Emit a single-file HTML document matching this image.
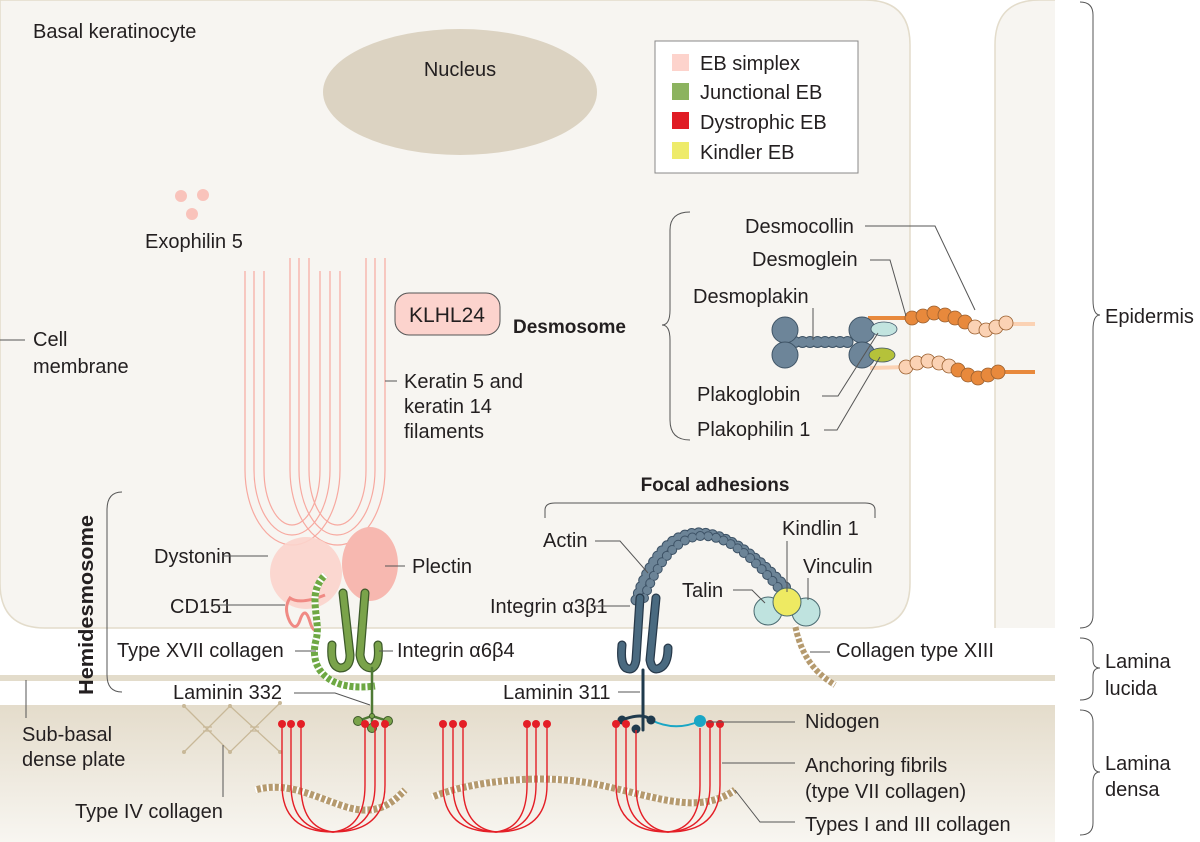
<!DOCTYPE html>
<html><head><meta charset="utf-8"><style>
html,body{margin:0;padding:0;background:#fff}
svg{display:block}
text{font-family:"Liberation Sans",sans-serif;font-size:20px;fill:#231f20}
.b{font-weight:bold}
.ln{stroke:#555;stroke-width:1;fill:none}
</style></head><body>
<svg width="1200" height="842" viewBox="0 0 1200 842" xmlns="http://www.w3.org/2000/svg">
<defs>
<linearGradient id="dg" x1="0" y1="0" x2="0" y2="1"><stop offset="0" stop-color="#e4dccb"/><stop offset="1" stop-color="#f8f6f1"/></linearGradient>
</defs>
<path d="M0,0 L865,0 Q910,0 910,45 L910,583 Q910,628 865,628 L45,628 Q0,628 0,583 Z" fill="#f7f5f1" stroke="#e3dccb" stroke-width="1.5"/>
<path d="M995,628 L995,45 Q995,0 1040,0 L1055,0 L1055,628 Z" fill="#f7f5f1"/>
<path d="M995,628 L995,45 Q995,0 1040,0 L1055,0" fill="none" stroke="#e3dccb" stroke-width="1.5"/>
<rect x="0" y="675" width="1055" height="6" fill="#e3dccb"/>
<rect x="0" y="705" width="1055" height="137" fill="url(#dg)"/>
<ellipse cx="460" cy="92" rx="137" ry="63" fill="#dcd3c2"/>
<text x="460" y="76" text-anchor="middle">Nucleus</text>
<text x="33" y="38">Basal keratinocyte</text>
<rect x="655" y="41" width="203" height="132" fill="#fff" stroke="#888" stroke-width="1"/>
<rect x="672" y="54" width="17" height="17" fill="#fdd3cc"/><text x="700" y="70">EB simplex</text>
<rect x="672" y="83" width="17" height="17" fill="#8cb35f"/><text x="700" y="99">Junctional EB</text>
<rect x="672" y="112" width="17" height="17" fill="#e01b24"/><text x="700" y="129">Dystrophic EB</text>
<rect x="672" y="142" width="17" height="17" fill="#eeeb6a"/><text x="700" y="159">Kindler EB</text>
<circle cx="181" cy="196" r="6" fill="#f9c3bb"/><circle cx="203" cy="195" r="6" fill="#f9c3bb"/><circle cx="192" cy="214" r="6" fill="#f9c3bb"/>
<text x="145" y="248">Exophilin 5</text>
<line x1="0" y1="340" x2="25" y2="340" class="ln"/>
<text x="33" y="346">Cell</text><text x="33" y="373">membrane</text>
<g fill="none" stroke="#f7a9a0" stroke-width="1.2">
<path d="M245,271 L245,470 A47.5,75 0 0 0 340,470 L340,271"/>
<path d="M254,271 L254,470 A38,65 0 0 0 330,470 L330,271"/>
<path d="M264,271 L264,470 A28,55 0 0 0 320,470 L320,271"/>
<path d="M290,258 L290,470 A47.5,75 0 0 0 385,470 L385,258"/>
<path d="M299,258 L299,470 A38,65 0 0 0 375,470 L375,258"/>
<path d="M309,258 L309,470 A28.5,55 0 0 0 366,470 L366,258"/>
</g>
<rect x="395" y="293" width="105" height="42" rx="14" fill="#fcd3cd" stroke="#555"/>
<text x="447" y="322" text-anchor="middle" style="font-size:21px">KLHL24</text>
<line x1="385" y1="381" x2="397" y2="381" class="ln"/>
<text x="404" y="388">Keratin 5 and</text><text x="404" y="413">keratin 14</text><text x="404" y="438">filaments</text>
<text x="513" y="333" class="b" style="font-size:19px">Desmosome</text>
<path d="M690,212 Q670,212 670,230 L670,310 Q670,325 662,325 Q670,325 670,340 L670,420 Q670,440 690,440" class="ln"/>
<line x1="868" y1="318" x2="910" y2="318" stroke="#e8893c" stroke-width="4"/>
<line x1="1000" y1="324" x2="1035" y2="324" stroke="#fbd2b4" stroke-width="4"/>
<line x1="870" y1="368" x2="906" y2="367" stroke="#fbd2b4" stroke-width="4"/>
<line x1="995" y1="372" x2="1035" y2="372" stroke="#e8893c" stroke-width="4"/>
<g stroke="#9a6030" stroke-width="0.8">
<g fill="#e8893c"><circle cx="912" cy="318" r="7"/><circle cx="923" cy="316" r="7"/><circle cx="934" cy="313" r="7"/><circle cx="945" cy="315" r="7"/><circle cx="955" cy="318" r="7"/><circle cx="965" cy="322" r="7"/></g>
<g fill="#fbd2b4"><circle cx="975" cy="327" r="7"/><circle cx="986" cy="330" r="7"/><circle cx="996" cy="327" r="7"/><circle cx="1006" cy="323" r="7"/></g>
<g fill="#fbd2b4"><circle cx="906" cy="367" r="7"/><circle cx="917" cy="363" r="7"/><circle cx="928" cy="361" r="7"/><circle cx="939" cy="363" r="7"/><circle cx="949" cy="366" r="7"/></g>
<g fill="#e8893c"><circle cx="958" cy="370" r="7"/><circle cx="968" cy="375" r="7"/><circle cx="978" cy="378" r="7"/><circle cx="988" cy="375" r="7"/><circle cx="998" cy="372" r="7"/></g>
</g>
<path d="M795,342 L855,342" stroke="#3f5466" stroke-width="12" stroke-dasharray="0 7.5" stroke-linecap="round"/>
<path d="M795,342 L855,342" stroke="#6d8599" stroke-width="10" stroke-dasharray="0 7.5" stroke-linecap="round"/>
<g fill="#6d8599" stroke="#3f5466" stroke-width="1"><circle cx="785" cy="330" r="13"/><circle cx="785" cy="355" r="13"/><circle cx="862" cy="330" r="13"/><circle cx="862" cy="355" r="13"/></g>
<ellipse cx="884" cy="329" rx="13" ry="7" fill="#c2e4df" stroke="#3f5466" stroke-width="0.8"/>
<ellipse cx="882" cy="355" rx="13" ry="7" fill="#b5c23a" stroke="#3f5466" stroke-width="0.8"/>
<text x="745" y="233">Desmocollin</text><path d="M865,226 L935,226 L975,310" class="ln"/>
<text x="752" y="266">Desmoglein</text><path d="M870,260 L890,260 L906,316" class="ln"/>
<text x="693" y="303">Desmoplakin</text><path d="M813,308 L813,340" class="ln"/>
<text x="697" y="401">Plakoglobin</text><path d="M822,396 L838,396 L878,333" class="ln"/>
<text x="697" y="436">Plakophilin 1</text><path d="M824,430 L837,430 L880,357" class="ln"/>
<text x="1105" y="323">Epidermis</text>
<g class="ln" stroke="#444"><path d="M1080,2 Q1093,2 1093,15 L1093,300 Q1093,315 1100,315 Q1093,315 1093,330 L1093,615 Q1093,628 1080,628"/>
<path d="M1080,638 Q1093,638 1093,648 L1093,660 Q1093,668 1100,668 Q1093,668 1093,676 L1093,690 Q1093,700 1080,700"/>
<path d="M1080,710 Q1093,710 1093,722 L1093,762 Q1093,772 1100,772 Q1093,772 1093,782 L1093,823 Q1093,835 1080,835"/></g>
<text x="1105" y="668">Lamina</text><text x="1105" y="695">lucida</text>
<text x="1105" y="770">Lamina</text><text x="1105" y="796">densa</text>
<text x="715" y="491" text-anchor="middle" class="b" style="font-size:19px">Focal adhesions</text>
<path d="M545,518 L545,510 Q545,503 555,503 L865,503 Q875,503 875,510 L875,518" class="ln"/>
<path d="M636,600 Q680,470 790,592" fill="none" stroke="#3d5266" stroke-width="11" stroke-dasharray="0 7" stroke-linecap="round"/>
<path d="M636,600 Q680,470 790,592" fill="none" stroke="#6c8497" stroke-width="9" stroke-dasharray="0 7" stroke-linecap="round"/>
<path d="M644,598 Q690,478 780,590" fill="none" stroke="#3d5266" stroke-width="10" stroke-dasharray="0 8" stroke-linecap="round"/>
<path d="M644,598 Q690,478 780,590" fill="none" stroke="#6c8497" stroke-width="8" stroke-dasharray="0 8" stroke-linecap="round"/>
<path d="M795,625 C800,650 810,670 835,685" fill="none" stroke="#b59a6e" stroke-width="6"/>
<path d="M795,625 C800,650 810,670 835,685" fill="none" stroke="#fff" stroke-width="6" stroke-dasharray="2 4"/>
<g stroke="#4a6a70" stroke-width="1"><circle cx="768" cy="611" r="14" fill="#bfe3df"/><circle cx="806" cy="612" r="14" fill="#bfe3df"/><circle cx="787" cy="602" r="14" fill="#eeea62"/></g>
<text x="543" y="547">Actin</text><path d="M595,541 L620,541 L648,573" class="ln"/>
<text x="782" y="535">Kindlin 1</text><path d="M787,541 L787,592" class="ln"/>
<text x="803" y="573">Vinculin</text><path d="M808,578 L808,600" class="ln"/>
<text x="682" y="597">Talin</text><path d="M733,590 L752,590 L765,603" class="ln"/>
<text x="490" y="613">Integrin α3β1</text><path d="M592,606 L630,606" class="ln"/>
<text x="836" y="657">Collagen type XIII</text><path d="M810,652 L830,652" class="ln"/>
<g fill="none" stroke-linecap="round">
<path d="M640,598 L636,660 Q634,672 626,668 Q620,664 622,645" stroke="#27394a" stroke-width="9"/>
<path d="M656,598 L650,660 Q652,672 660,668 Q668,664 668,648" stroke="#27394a" stroke-width="9"/>
<path d="M640,598 L636,660 Q634,672 626,668 Q620,664 622,645" stroke="#4a6a80" stroke-width="6.5"/>
<path d="M656,598 L650,660 Q652,672 660,668 Q668,664 668,648" stroke="#4a6a80" stroke-width="6.5"/>
<path d="M643,670 L643,718 M622,720 Q643,712 651,720 M643,718 L643,730" stroke="#1f3a4d" stroke-width="3"/>
<path d="M651,720 Q675,732 700,721" stroke="#1aa6c5" stroke-width="2"/>
</g>
<g fill="#1f3a4d"><circle cx="622" cy="720" r="4.5"/><circle cx="651" cy="720" r="4.5"/><circle cx="636" cy="729" r="4.5"/></g>
<circle cx="700" cy="721" r="6" fill="#1aa6c5"/>
<text x="503" y="699">Laminin 311</text><path d="M618,692 L640,692" class="ln"/>
<text transform="translate(93,695) rotate(-90)" class="b" textLength="180" lengthAdjust="spacingAndGlyphs" style="font-size:20px">Hemidesmosome</text>
<path d="M122,492 Q107,492 107,510 L107,675 Q107,692 122,692" class="ln"/>
<circle cx="306" cy="573" r="36" fill="#fbd4cc" opacity="0.9"/>
<ellipse cx="370" cy="564" rx="28" ry="37" fill="#f7b8b0"/>
<path d="M325,595 Q300,605 290,598 Q283,608 290,622 Q296,632 300,620 Q305,605 310,622 Q314,636 320,626" fill="none" stroke="#f08a84" stroke-width="3"/>
<path d="M325,575 C305,595 322,620 316,640 C308,670 330,692 375,686" fill="none" stroke="#6ea843" stroke-width="7"/>
<path d="M325,575 C305,595 322,620 316,640 C308,670 330,692 375,686" fill="none" stroke="#fff" stroke-width="7" stroke-dasharray="2 4"/>
<g fill="none" stroke-linecap="round">
<path d="M343,593 L350,655 Q350,668 340,668 Q330,666 332,645" stroke="#3d5a2a" stroke-width="9"/>
<path d="M365,593 L360,655 Q362,668 372,668 Q380,664 378,645" stroke="#3d5a2a" stroke-width="9"/>
<path d="M343,593 L350,655 Q350,668 340,668 Q330,666 332,645" stroke="#7aa34a" stroke-width="6.5"/>
<path d="M365,593 L360,655 Q362,668 372,668 Q380,664 378,645" stroke="#7aa34a" stroke-width="6.5"/>
<path d="M372,668 L372,718 M358,721 L372,716 L388,721 M372,716 L372,727" stroke="#4f7a35" stroke-width="2.5"/>
</g>
<g fill="#7aa34a" stroke="#3d5a2a" stroke-width="1"><circle cx="358" cy="721" r="4.5"/><circle cx="388" cy="721" r="4.5"/><circle cx="372" cy="728" r="4.5"/><circle cx="372" cy="716" r="2.5"/></g>
<text x="154" y="563">Dystonin</text><path d="M222,556 L268,556" class="ln"/>
<text x="412" y="573">Plectin</text><path d="M385,566 L405,566" class="ln"/>
<text x="170" y="613">CD151</text><path d="M215,605 L285,605" class="ln"/>
<text x="117" y="657">Type XVII collagen</text><path d="M295,651 L316,651" class="ln"/>
<text x="397" y="657">Integrin α6β4</text><path d="M379,651 L393,651" class="ln"/>
<text x="173" y="699">Laminin 332</text><path d="M294,693 L335,693 L370,705" class="ln"/>
<path d="M26,680 L26,718" class="ln"/>
<text x="22" y="741">Sub-basal</text><text x="22" y="766">dense plate</text>
<g stroke="#c8b898" stroke-width="1.3" fill="none">
<path d="M184,706 L230,752 L280,703 M184,752 L230,706 L280,752"/>
<path d="M203,727 L212,727 M203,731 L212,731 M250,727 L259,727 M250,731 L259,731"/>
</g>
<g fill="#c8b898"><circle cx="184" cy="706" r="2"/><circle cx="230" cy="706" r="2"/><circle cx="280" cy="703" r="2"/><circle cx="184" cy="752" r="2"/><circle cx="230" cy="752" r="2"/><circle cx="280" cy="752" r="2"/></g>
<path d="M223,745 L223,797" class="ln"/>
<text x="75" y="818">Type IV collagen</text>
<g fill="none">
<path d="M255,790 C290,780 320,800 350,808 S395,800 405,790" stroke="#b59a6e" stroke-width="7"/>
<path d="M255,790 C290,780 320,800 350,808 S395,800 405,790" stroke="#fff" stroke-width="7" stroke-dasharray="2 4"/>
<path d="M432,797 C470,782 540,772 600,785 S700,815 735,790" stroke="#b59a6e" stroke-width="7"/>
<path d="M432,797 C470,782 540,772 600,785 S700,815 735,790" stroke="#fff" stroke-width="7" stroke-dasharray="2 4"/>
</g>
<g fill="none" stroke="#e41e26" stroke-width="1.4">
<path d="M282,724 L282,785 Q282,832 333,832 Q385,832 385,785 L385,724"/>
<path d="M291,724 L291,785 Q291,830 333,832 Q375,830 375,785 L375,724"/>
<path d="M301,724 L301,785 Q301,828 333,832 Q365,828 365,785 L365,724"/>
<path d="M443,724 L443,785 Q443,832 496,832 Q547,832 547,785 L547,724"/>
<path d="M453,724 L453,785 Q453,830 496,832 Q536,830 536,785 L536,724"/>
<path d="M463,724 L463,785 Q463,828 496,832 Q527,828 527,785 L527,724"/>
<path d="M616,724 L616,785 Q616,832 668,832 Q720,832 720,785 L720,724"/>
<path d="M626,724 L626,785 Q626,830 668,832 Q710,830 710,785 L710,724"/>
<path d="M636,730 L636,785 Q636,828 668,832 Q700,828 700,785 L700,728"/>
</g>
<g fill="#e41e26">
<circle cx="282" cy="724" r="4"/><circle cx="291" cy="724" r="4"/><circle cx="301" cy="724" r="4"/><circle cx="365" cy="724" r="4"/><circle cx="375" cy="724" r="4"/><circle cx="385" cy="724" r="4"/>
<circle cx="443" cy="724" r="4"/><circle cx="453" cy="724" r="4"/><circle cx="463" cy="724" r="4"/><circle cx="527" cy="724" r="4"/><circle cx="536" cy="724" r="4"/><circle cx="547" cy="724" r="4"/>
<circle cx="616" cy="724" r="4"/><circle cx="626" cy="724" r="4"/><circle cx="710" cy="724" r="4"/><circle cx="720" cy="724" r="4"/>
</g>
<text x="805" y="728">Nidogen</text><path d="M706,722 L795,722" class="ln"/>
<text x="805" y="772">Anchoring fibrils</text><text x="805" y="798">(type VII collagen)</text><path d="M722,763 L795,763" class="ln"/>
<text x="805" y="831">Types I and III collagen</text><path d="M735,790 L760,822 L795,822" class="ln"/>
</svg>
</body></html>
